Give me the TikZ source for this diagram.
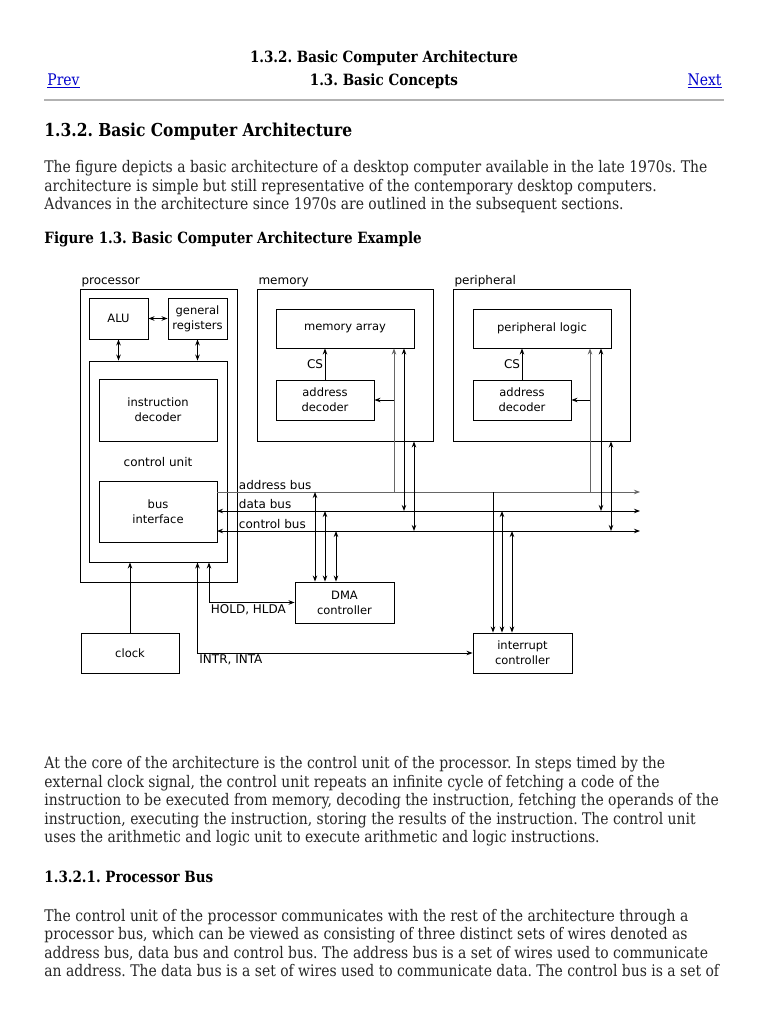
\documentclass[tikz,border=0pt]{standalone}
\usepackage{fontspec}
\usepackage{tikz}
\usetikzlibrary{arrows.meta}
\newfontfamily\pagefont[FakeStretch=0.87]{DejaVu Serif}
\newfontfamily\figfont{DejaVu Sans}
\definecolor{linkblue}{RGB}{0,0,204}
\definecolor{bodytext}{RGB}{38,38,38}
\frenchspacing

\begin{document}
\begin{tikzpicture}[x=1pt, y=-1pt, >={Stealth[length=6pt,width=4.5pt]}, line width=0.9pt]
    \tikzstyle{box}=[draw, align=center, inner sep=0pt,
      font=\figfont\fontsize{11.5}{15}\selectfont]
    \tikzstyle{lbl}=[inner sep=1.5pt, font=\figfont\fontsize{12}{14}\selectfont]
    \tikzstyle{addr}=[draw=black!60]
    \tikzstyle{txt}=[anchor=west, inner sep=0pt, text height=11pt, text depth=3.5pt,
      text=bodytext, font=\pagefont\fontsize{16}{18}\selectfont]
    \tikzstyle{hd}=[anchor=west, inner sep=0pt, text height=11pt, text depth=3.5pt,
      font=\pagefont\bfseries\fontsize{15.5}{18}\selectfont]
    \path[use as bounding box, fill=white] (0,0) rectangle (768,1024);

    % page header
    \node[hd, anchor=center] (ptitle) at (384,59) {1.3.2. Basic Computer Architecture};
    \node[hd, anchor=center] (pup) at (384,82) {1.3. Basic Concepts};
    \node[txt, text=linkblue] (prev) at (47,82) {\underline{Prev}};
    \node[txt, anchor=east, text=linkblue] (next) at (722,82) {\underline{Next}};
    \draw[black!30, line width=1.2pt] (44,100) -- (724,100);
    \node[hd, font=\pagefont\bfseries\fontsize{17.8}{22}\selectfont] (sec) at (44,133) {1.3.2. Basic Computer Architecture};

    \node[txt] (p1a) at (44,169) {The figure depicts a basic architecture of a desktop computer available in the late 1970s. The};
    \node[txt] (p1b) at (44,188) {architecture is simple but still representative of the contemporary desktop computers.};
    \node[txt] (p1c) at (44,206) {Advances in the architecture since 1970s are outlined in the subsequent sections.};
    \node[hd] (figcap) at (44,240) {Figure 1.3. Basic Computer Architecture Example};

    % processor
    \node[box, minimum width=157, minimum height=293] (proc) at (158.5,435.5) {};
    \node[lbl, anchor=south west] (proclbl) at (proc.north west) {processor};
    \node[box, minimum width=59, minimum height=41] (alu) at (118.5,318.5) {ALU};
    \node[box, minimum width=59, minimum height=41] (regs) at (197.5,318.5) {general\\registers};
    \node[box, minimum width=138, minimum height=201] (cu) at (158,461.5) {};
    \node[lbl] (culbl) at (158,462) {control unit};
    \node[box, minimum width=118, minimum height=62] (idec) at (158,410) {instruction\\decoder};
    \node[box, minimum width=118, minimum height=61] (bif) at (158,511.5) {bus\\interface};
    \draw[<->] (alu) -- (regs);
    \draw[<->] (alu) -- (alu |- cu.north);
    \draw[<->] (regs) -- (regs |- cu.north);

    % memory
    \node[box, minimum width=176, minimum height=152] (mem) at (345,365) {};
    \node[lbl, anchor=south west] (memlbl) at (mem.north west) {memory};
    \node[box, minimum width=138, minimum height=39] (marr) at (345,328.5) {memory array};
    \node[box, minimum width=98, minimum height=40] (mdec) at (325,400) {address\\decoder};
    \draw[->] (mdec) -- node[lbl, left]{CS} (mdec |- marr.south);

    % peripheral
    \node[box, minimum width=177, minimum height=152] (per) at (541.5,365) {};
    \node[lbl, anchor=south west] (perlbl) at (per.north west) {peripheral};
    \node[box, minimum width=138, minimum height=39] (plog) at (542,328.5) {peripheral logic};
    \node[box, minimum width=98, minimum height=40] (pdec) at (522,400) {address\\decoder};
    \draw[->] (pdec) -- node[lbl, left]{CS} (pdec |- plog.south);

    % lower boxes
    \node[box, minimum width=99, minimum height=41] (dma) at (344.5,602.5) {DMA\\controller};
    \node[box, minimum width=99, minimum height=40] (intc) at (522.5,653) {interrupt\\controller};
    \node[box, minimum width=98, minimum height=40] (clock) at (130,653) {clock};

    % buses
    \coordinate (abus) at (217,492);
    \coordinate (dbus) at (217,511);
    \coordinate (cbus) at (217,531);
    \coordinate (aend) at (640,492);
    \coordinate (dend) at (640,511);
    \coordinate (cend) at (640,531);
    \draw[->, addr] (abus) -- (aend) node[lbl, at start, above right, xshift=20]{address bus};
    \draw[<->] (dbus) -- (dend) node[lbl, at start, above right, xshift=20]{data bus};
    \draw[<->] (cbus) -- (cend) node[lbl, at start, above right, xshift=20]{control bus};

    % wire columns
    \coordinate (ma) at (394,0);
    \coordinate (md) at (404,0);
    \coordinate (mc) at (414,0);
    \coordinate (pa) at (590,0);
    \coordinate (pd) at (601,0);
    \coordinate (pc) at (611,0);
    \coordinate (da) at (315,0);
    \coordinate (dd) at (325,0);
    \coordinate (dc) at (336,0);
    \coordinate (ia) at (493,0);
    \coordinate (id) at (502,0);
    \coordinate (ic) at (512,0);
    \coordinate (hold) at (209,0);

    \draw[->, addr] (abus -| ma) -- (marr.south -| ma);
    \draw[->] (mdec.east -| ma) -- (mdec.east);
    \draw[<->] (dbus -| md) -- (marr.south -| md);
    \draw[<->] (cbus -| mc) -- (mem.south -| mc);

    \draw[->, addr] (abus -| pa) -- (plog.south -| pa);
    \draw[->] (pdec.east -| pa) -- (pdec.east);
    \draw[<->] (dbus -| pd) -- (plog.south -| pd);
    \draw[<->] (cbus -| pc) -- (per.south -| pc);

    \draw[<->] (abus -| da) -- (dma.north -| da);
    \draw[<->] (dbus -| dd) -- (dma.north -| dd);
    \draw[<->] (cbus -| dc) -- (dma.north -| dc);

    \draw[->] (abus -| ia) -- (intc.north -| ia);
    \draw[<->] (dbus -| id) -- (intc.north -| id);
    \draw[<->] (cbus -| ic) -- (intc.north -| ic);

    \draw[->] (clock) -- (clock |- cu.south);
    \draw[<->] (regs |- cu.south) |- node[lbl, pos=0.5, below right]{INTR, INTA} (intc.west);
    \draw[<->] (hold |- cu.south) |- node[lbl, pos=0.5, below right]{HOLD, HLDA} (dma.west);

    % text below the figure
    \node[txt] (p2a) at (44,765) {At the core of the architecture is the control unit of the processor. In steps timed by the};
    \node[txt] (p2b) at (44,784) {external clock signal, the control unit repeats an infinite cycle of fetching a code of the};
    \node[txt] (p2c) at (44,802) {instruction to be executed from memory, decoding the instruction, fetching the operands of the};
    \node[txt] (p2d) at (44,821) {instruction, executing the instruction, storing the results of the instruction. The control unit};
    \node[txt] (p2e) at (44,839) {uses the arithmetic and logic unit to execute arithmetic and logic instructions.};
    \node[hd] (sub) at (44,879) {1.3.2.1. Processor Bus};
    \node[txt] (p3a) at (44,918) {The control unit of the processor communicates with the rest of the architecture through a};
    \node[txt] (p3b) at (44,936) {processor bus, which can be viewed as consisting of three distinct sets of wires denoted as};
    \node[txt] (p3c) at (44,955) {address bus, data bus and control bus. The address bus is a set of wires used to communicate};
    \node[txt] (p3d) at (44,973) {an address. The data bus is a set of wires used to communicate data. The control bus is a set of};
  \end{tikzpicture}
\end{document}
